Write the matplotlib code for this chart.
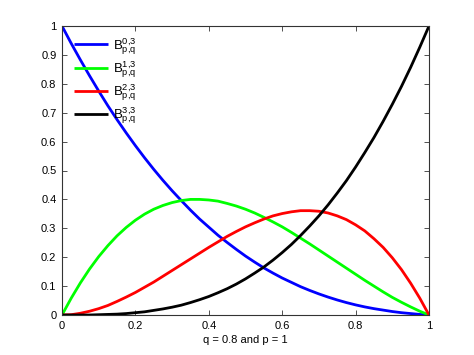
import matplotlib
matplotlib.use("Agg")
import matplotlib.pyplot as plt

plt.rcParams['font.family'] = ['Liberation Sans', 'DejaVu Sans']
plt.rcParams['mathtext.fontset'] = 'custom'
plt.rcParams['mathtext.rm'] = 'Liberation Sans'
plt.rcParams['mathtext.it'] = 'Liberation Sans'

x = [0, 0.025, 0.05, 0.075, 0.1, 0.125, 0.15, 0.175, 0.2, 0.225, 0.25, 0.275, 0.3, 0.325,
     0.35, 0.375, 0.4, 0.425, 0.45, 0.475, 0.5, 0.525, 0.55, 0.575, 0.6, 0.625, 0.65, 0.675,
     0.7, 0.725, 0.75, 0.775, 0.8, 0.825, 0.85, 0.875, 0.9, 0.925, 0.95, 0.975, 1.0]

b0 = [1.000, 0.940, 0.883, 0.828, 0.775, 0.724, 0.676, 0.630, 0.586, 0.544, 0.504, 0.466,
      0.430, 0.396, 0.363, 0.332, 0.304, 0.276, 0.251, 0.227, 0.204, 0.183, 0.163, 0.145,
      0.128, 0.113, 0.098, 0.085, 0.073, 0.062, 0.052, 0.043, 0.035, 0.028, 0.022, 0.017,
      0.012, 0.008, 0.005, 0.002, 0.000]
b1 = [0.000, 0.058, 0.111, 0.159, 0.202, 0.240, 0.274, 0.303, 0.328, 0.349, 0.366, 0.379,
      0.389, 0.396, 0.400, 0.400, 0.398, 0.394, 0.386, 0.377, 0.366, 0.353, 0.338, 0.322,
      0.305, 0.286, 0.266, 0.246, 0.225, 0.204, 0.183, 0.162, 0.141, 0.120, 0.100, 0.080,
      0.061, 0.044, 0.028, 0.013, 0.000]
b2 = [0.000, 0.001, 0.006, 0.013, 0.022, 0.033, 0.047, 0.062, 0.078, 0.096, 0.114, 0.134,
      0.154, 0.174, 0.194, 0.214, 0.234, 0.253, 0.272, 0.289, 0.305, 0.319, 0.332, 0.343,
      0.351, 0.357, 0.361, 0.361, 0.359, 0.353, 0.343, 0.330, 0.312, 0.291, 0.264, 0.234,
      0.198, 0.157, 0.110, 0.058, 0.000]
b3 = [0.000, 0.000, 0.000, 0.000, 0.001, 0.002, 0.003, 0.005, 0.008, 0.011, 0.016, 0.021,
      0.027, 0.034, 0.043, 0.053, 0.064, 0.077, 0.091, 0.107, 0.125, 0.145, 0.166, 0.190,
      0.216, 0.244, 0.275, 0.308, 0.343, 0.381, 0.422, 0.465, 0.512, 0.562, 0.614, 0.670,
      0.729, 0.791, 0.857, 0.927, 1.000]

labels = [r'$\mathrm{B}^{0{,}3}_{\mathrm{p{,}q}}$', r'$\mathrm{B}^{1{,}3}_{\mathrm{p{,}q}}$',
          r'$\mathrm{B}^{2{,}3}_{\mathrm{p{,}q}}$', r'$\mathrm{B}^{3{,}3}_{\mathrm{p{,}q}}$']
colors = ['#0000ff', '#00ff00', '#ff0000', '#000000']
xticks = [0, 0.2, 0.4, 0.6, 0.8, 1]
xticklabels = ['0', '0.2', '0.4', '0.6', '0.8', '1']
yticks = [0, 0.1, 0.2, 0.3, 0.4, 0.5, 0.6, 0.7, 0.8, 0.9, 1]
yticklabels = ['0', '0.1', '0.2', '0.3', '0.4', '0.5', '0.6', '0.7', '0.8', '0.9', '1']

fig = plt.figure(figsize=(4.74, 3.55), dpi=100)
ax = fig.add_axes([62/474, 40/355, 367/474, 289/355])

for ys, c, lab in zip([b0, b1, b2, b3], colors, labels):
    ax.plot(x, ys, color=c, lw=2, label=lab, solid_capstyle='butt')

ax.set_xlim(0, 1)
ax.set_ylim(0, 1)
ax.set_xticks(xticks)
ax.set_xticklabels(xticklabels)
ax.set_yticks(yticks)
ax.set_yticklabels(yticklabels)
ax.tick_params(direction='in', top=True, right=True, length=3.5, width=0.6,
               labelsize=8, colors='#333333', labelcolor='black', pad=4)
for s in ax.spines.values():
    s.set_color('#333333')
    s.set_linewidth(0.8)
ax.set_xlabel('q = 0.8 and p = 1', fontsize=8, labelpad=3)

leg = ax.legend(loc='upper left', bbox_to_anchor=(0.012, 0.993), frameon=False,
                fontsize=9.5, handlelength=2.55, handletextpad=0.4, labelspacing=0.2,
                borderaxespad=0.2)

fig.savefig('out.png', dpi=100)
